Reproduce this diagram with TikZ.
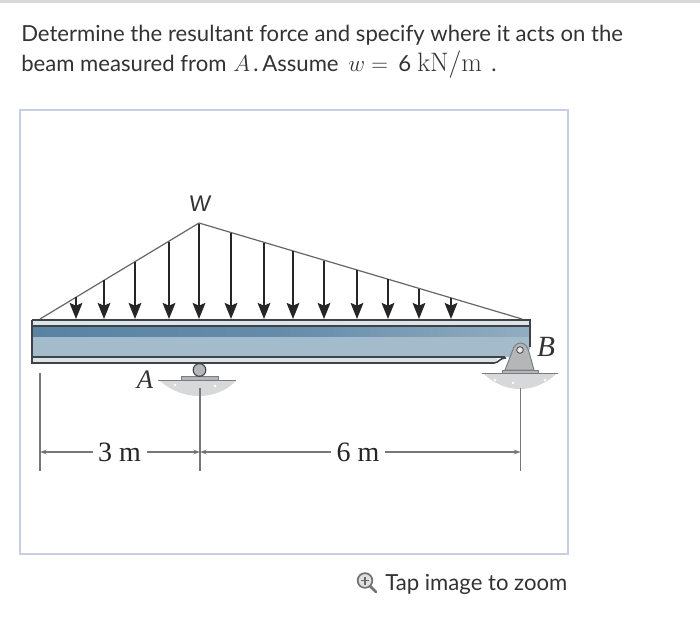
\documentclass[tikz,border=0pt]{standalone}
\usepackage{fontspec}
\newfontfamily\uifont{Lato}
\newfontfamily\figfont{Liberation Serif}
\newfontfamily\figsans{Liberation Sans}
\usetikzlibrary{arrows.meta}
\definecolor{frameblue}{HTML}{C6D0E2}
\definecolor{inktext}{HTML}{333333}
\definecolor{beamlight}{HTML}{A3BBCB}
\definecolor{beamdark}{HTML}{5A83A3}
\definecolor{flange}{HTML}{DCE4E8}
\definecolor{edge}{HTML}{3F4347}
\definecolor{groundgray}{HTML}{D6D8D9}
\definecolor{supportgray}{HTML}{B4B6B8}
\definecolor{dimgray}{HTML}{777777}
\tikzset{
  uitext/.style={inner sep=0pt,text=inktext,font=\uifont\fontsize{16.6}{20}\selectfont,anchor=base west},
  mathtext/.style={inner sep=0pt,text=inktext,font=\fontsize{19}{20}\selectfont,anchor=base west},
  figtext/.style={inner sep=0pt,text=black!85,font=\figfont\fontsize{21}{24}\selectfont},
  figital/.style={inner sep=0pt,text=black!80,font=\figfont\itshape\fontsize{20}{24}\selectfont},
  loadarrow/.style={draw=black!85,line width=1.5pt,-{Stealth[length=12pt,width=9.5pt,inset=2pt]}},
  loadline/.style={draw=black!60,line width=0.9pt},
  dimline/.style={draw=dimgray,line width=0.8pt},
  dimarrow/.style={draw=dimgray,line width=0.8pt,-{Stealth[length=5pt,width=3.5pt]}},
  beamedge/.style={draw=edge,line width=1.2pt}
}
\begin{document}
\begin{tikzpicture}[x=0.75pt,y=-0.75pt]
\useasboundingbox (0,0) rectangle (700,621);
\fill[white] (0,0) rectangle (700,621);
\fill[black!15] (0,0) rectangle (700,2.5);
% text
\node[uitext] (line1) at (21,41) {Determine the resultant force and specify where it acts on the};
\node[uitext] (line2) at (21,71) {beam measured from};
\node[mathtext] (lineA) at (233,71) {$A$};
\node[uitext] (lineDot) at (253,71) {.};
\node[uitext] (lineB) at (262,71) {Assume};
\node[mathtext] (lineC) at (348,71) {$w=$};
\node[uitext] (lineD) at (398,71) {6};
\node[mathtext,font=\fontsize{20}{20}\selectfont] (lineE) at (417,71) {$\mathrm{kN/m}$};
\node[uitext] (lineF) at (491,71) {.};
% frame
\draw[frameblue,line width=1pt] (20,110) rectangle (568,554);
% ground
\fill[groundgray] (160,381) .. controls (172,391) and (185,396) .. (199,396) .. controls (213,396) and (226,391) .. (236,381) -- cycle;
\fill[groundgray] (484,374) .. controls (494,384) and (508,389) .. (520,389) .. controls (532,389) and (546,384) .. (556,374) -- cycle;
\foreach \p in {(495,380),(513,383),(545,380),(175,385),(215,386)}
  \fill[white] \p circle (1.3);
% beam
\fill[flange] (32,320) rectangle (530,327);
\fill[flange] (32,357) rectangle (497,363);
\fill[beamlight] (32,326) -- (530,326) -- (530,347) -- (528,357) -- (32,357) -- cycle;
\shade[left color=beamdark,right color=beamlight!75!beamdark,middle color=beamdark!85!beamlight] (32,327) rectangle (530,336);
\draw[beamedge] (32,320) -- (530,320) -- (530,347);
\draw[beamedge] (32,326) -- (530,326);
\draw[beamedge] (32,357) -- (505,357);
\draw[beamedge] (32,320) -- (32,363) -- (494,363) .. controls (499,363) and (499,358) .. (506,358);
% load outline
\coordinate (L0) at (40,319);
\coordinate (Lp) at (199,223);
\coordinate (Lr) at (522,319);
\draw[loadline] (L0) -- (Lp) -- (Lr);
\foreach \x/\yt in {76/297,104/280,135/262,169/242,199/224,231/233,264/243,293/251,324/261,357/270,388/279,419/289,451/298}{
  \coordinate (t\x) at (\x,\yt);
  \coordinate (b\x) at (\x,319);
  \draw[loadarrow] (t\x) -- (b\x);
}
\node[inner sep=0pt,font=\figsans\fontsize{17}{20}\selectfont,text=black!80,xslant=0.1] (w) at (200,204) {W};
% support A
\coordinate (lA1) at (158,380.5);
\coordinate (lA2) at (236,380.5);
\draw[edge!70,line width=0.9pt] (lA1) -- (lA2);
\draw[edge!70,fill=supportgray,line width=0.7pt] (181,376.5) rectangle (218,380.5);
\node[circle,draw=edge,fill=supportgray,line width=0.8pt,minimum size=9.5pt,inner sep=0pt] (pinA) at (199.5,370) {};
% support B
\coordinate (lB1) at (482,373.5);
\coordinate (lB2) at (558,373.5);
\draw[edge!70,line width=0.9pt] (lB1) -- (lB2);
\draw[edge!70,fill=supportgray,line width=0.7pt] (502,370) rectangle (538,373.5);
\draw[edge!70,fill=supportgray,line width=0.7pt] (505,370) -- (512,352) .. controls (515,340) and (526,340) .. (529,352) -- (534,370) -- cycle;
\node[circle,draw=edge,fill=white!70!supportgray,line width=0.6pt,minimum size=5pt,inner sep=0pt] (pinB) at (520,350) {};
% labels
\node[figital] (A) at (145,380) {A};
\node[figital,font=\figfont\itshape\fontsize{22}{24}\selectfont] (B) at (546,347) {B};
% dimensions
\coordinate (d1t) at (40,373); \coordinate (d1b) at (40,471);
\coordinate (d2t) at (200,388); \coordinate (d2b) at (200,471);
\coordinate (d3t) at (520.5,388); \coordinate (d3b) at (520.5,471);
\draw[dimline] (d1t) -- (d1b);
\draw[dimline] (d2t) -- (d2b);
\draw[dimline] (d3t) -- (d3b);
\node[figtext] (m3) at (119.5,452) {3 m};
\node[figtext] (m6) at (358,452) {6 m};
\coordinate (a1) at (40,452); \coordinate (a2) at (200,452); \coordinate (a3) at (520.5,452);
\draw[dimarrow] (m3) ++(-27,0) coordinate (m3l) -- (a1);
\draw[dimarrow] (m3) ++(27,0) coordinate (m3r) -- (a2);
\draw[dimarrow] (m6) ++(-27,0) coordinate (m6l) -- (a2);
\draw[dimarrow] (m6) ++(27,0) coordinate (m6r) -- (a3);
% tap to zoom
\draw[black!55,line width=2pt,line cap=round] (370,586) -- (376,592);
\node[circle,draw=black!55,fill=black!12,line width=1.3pt,minimum size=11pt,inner sep=0pt] (lens) at (365,580.5) {};
\draw[black!60,line width=0.9pt] (361,580.5) -- (369,580.5) (365,576.5) -- (365,584.5);
\node[uitext] (tap) at (385,590) {Tap image to zoom};
\end{tikzpicture}
\end{document}
